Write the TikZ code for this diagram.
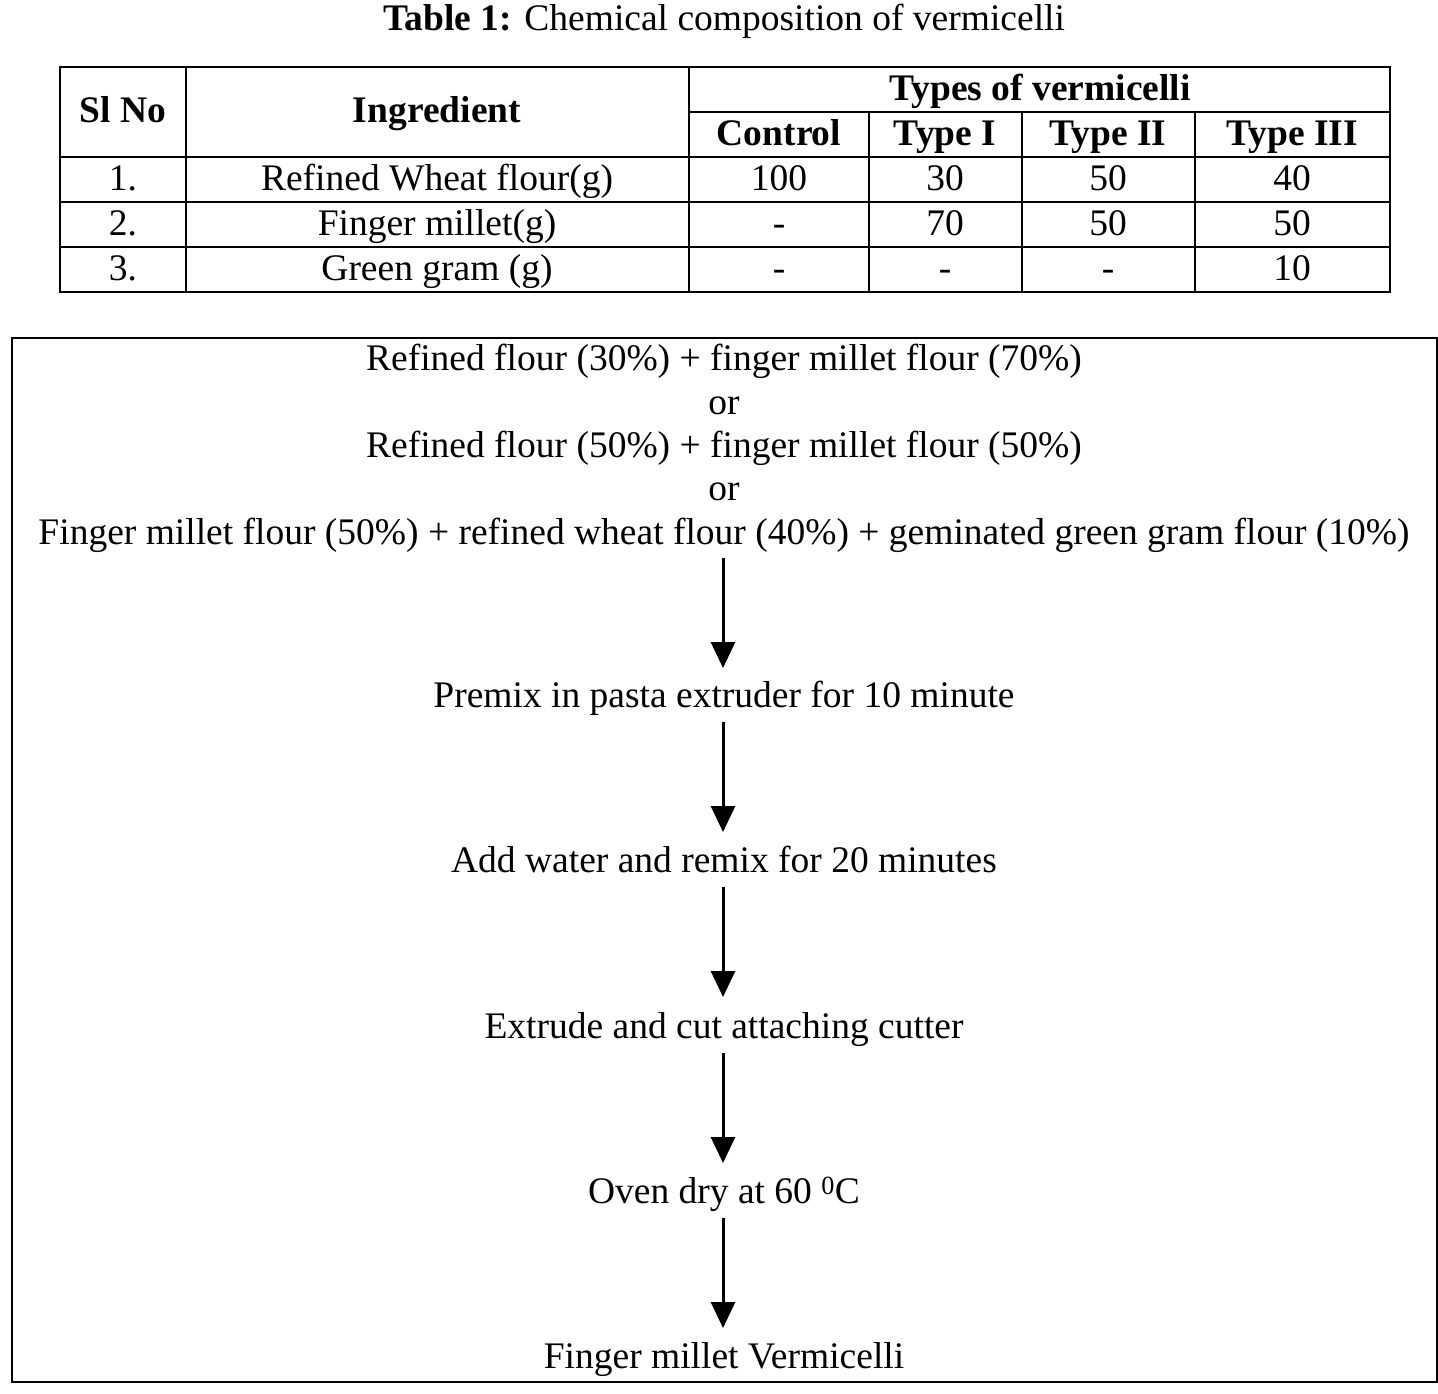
\documentclass[tikz,border=0pt]{standalone}
\usepackage{fontspec}
\setmainfont{Liberation Serif}
\usetikzlibrary{arrows.meta}
\begin{document}
\begin{tikzpicture}[x=1pt,y=-1pt,
  t/.style={inner sep=0pt,text height=25pt,text depth=8pt,font=\fontsize{37.5}{44}\selectfont},
  b/.style={t,font=\fontsize{37.5}{44}\selectfont\bfseries},
  ln/.style={line width=2pt},
  ar/.style={line width=3pt,-{Triangle[width=24pt,length=26pt]}}]
\useasboundingbox (0,0) rectangle (1438,1394);
\node[t] (title) at (724,22) {\textbf{Table 1:} Chemical composition of vermicelli};
% table
\draw[ln] (60,67) rectangle (1390,292);
\foreach \x in {186,689} \draw[ln] (\x,67) -- (\x,292);
\foreach \x in {869,1022,1195} \draw[ln] (\x,112) -- (\x,292);
\draw[ln] (689,112) -- (1390,112);
\foreach \y in {157,202,247} \draw[ln] (60,\y) -- (1390,\y);
\node[b] (h1) at (123,114) {Sl No};
\node[b] (h2) at (437,114) {Ingredient};
\node[b] (h3) at (1040,92) {Types of vermicelli};
\node[b] (h4) at (779,137) {Control};
\node[b] (h5) at (945,137) {Type I};
\node[b] (h6) at (1108,137) {Type II};
\node[b] (h7) at (1292,137) {Type III};
\foreach \y/\a/\b/\c/\d/\e/\f/\n in {182/1./Refined Wheat flour(g)/100/30/50/40/r1, 227/2./Finger millet(g)/-/70/50/50/r2, 272/3./Green gram (g)/-/-/-/10/r3}{
  \node[t] (\n a) at (123,\y) {\a};
  \node[t] (\n b) at (437,\y) {\b};
  \node[t] (\n c) at (779,\y) {\c};
  \node[t] (\n d) at (945,\y) {\d};
  \node[t] (\n e) at (1108,\y) {\e};
  \node[t] (\n f) at (1292,\y) {\f};
}
% flow box
\draw[ln] (12,338) rectangle (1437,1382);
\node[t] (l1) at (724,362) {Refined flour (30\%) + finger millet flour (70\%)};
\node[t] (l2) at (724,406) {or};
\node[t] (l3) at (724,449) {Refined flour (50\%) + finger millet flour (50\%)};
\node[t] (l4) at (724,492) {or};
\node[t] (l5) at (724,536) {Finger millet flour (50\%) + refined wheat flour (40\%) + geminated green gram flour (10\%)};
\node[t] (s1) at (724,699) {Premix in pasta extruder for 10 minute};
\node[t] (s2) at (724,864) {Add water and remix for 20 minutes};
\node[t] (s3) at (724,1030) {Extrude and cut attaching cutter};
\node[t] (s4) at (724,1195) {Oven dry at 60 \textsuperscript{0}C};
\node[t] (s5) at (724,1360) {Finger millet Vermicelli};
\foreach \a/\b/\n in {558/668/1,722/832/2,887/997/3,1053/1163/4,1218/1328/5}{
  \coordinate (a\n) at (723,\a); \coordinate (b\n) at (723,\b);
  \draw[ar] (a\n) -- (b\n);
}
\end{tikzpicture}
\end{document}
